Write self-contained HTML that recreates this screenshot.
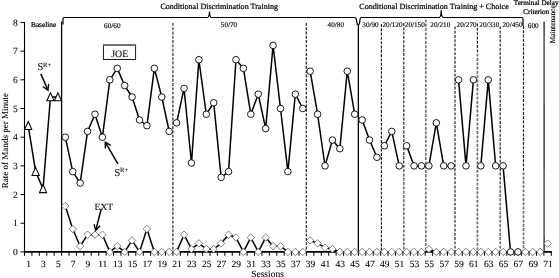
<!DOCTYPE html>
<html><head><meta charset="utf-8"><title>Figure</title><style>html,body{margin:0;padding:0;background:#fff}svg{display:block}text{stroke:#000;stroke-width:0.22px;text-rendering:geometricPrecision}.b{stroke-width:0.08px}.c{stroke-width:0.15px}</style></head><body>
<svg width="559" height="278" viewBox="0 0 559 278" font-family="'Liberation Serif', serif" fill="#000">
<rect width="559" height="278" fill="#fff"/>
<line x1="172.9" y1="22.90" x2="172.9" y2="74.50" stroke="#707070" stroke-width="1.7" stroke-dasharray="2.9 1.4"/>
<line x1="172.9" y1="74.50" x2="172.9" y2="251.90" stroke="#1a1a1a" stroke-width="1.15" stroke-dasharray="2.9 1.4"/>
<line x1="306.3" y1="22.90" x2="306.3" y2="251.90" stroke="#1a1a1a" stroke-width="1.15" stroke-dasharray="2.9 1.4"/>
<line x1="381.4" y1="24.00" x2="381.4" y2="251.90" stroke="#1a1a1a" stroke-width="1.15" stroke-dasharray="2.9 1.4"/>
<line x1="403.8" y1="23.00" x2="403.8" y2="169.20" stroke="#1a1a1a" stroke-width="1.15" stroke-dasharray="2.9 1.4"/>
<line x1="403.8" y1="169.20" x2="403.8" y2="251.90" stroke="#707070" stroke-width="1.7" stroke-dasharray="2.9 1.4"/>
<line x1="425.8" y1="19.50" x2="425.8" y2="251.90" stroke="#707070" stroke-width="1.7" stroke-dasharray="2.9 1.4"/>
<line x1="455" y1="26.40" x2="455" y2="251.90" stroke="#1a1a1a" stroke-width="1.15" stroke-dasharray="2.9 1.4"/>
<line x1="477.4" y1="23.60" x2="477.4" y2="53.70" stroke="#1a1a1a" stroke-width="1.15" stroke-dasharray="2.9 1.4"/>
<line x1="477.4" y1="53.70" x2="477.4" y2="251.90" stroke="#707070" stroke-width="1.7" stroke-dasharray="2.9 1.4"/>
<line x1="500.2" y1="26.40" x2="500.2" y2="181.20" stroke="#1a1a1a" stroke-width="1.15" stroke-dasharray="2.9 1.4"/>
<line x1="500.2" y1="181.20" x2="500.2" y2="251.90" stroke="#707070" stroke-width="1.7" stroke-dasharray="2.9 1.4"/>
<line x1="523.5" y1="26.00" x2="523.5" y2="172.20" stroke="#1a1a1a" stroke-width="1.15" stroke-dasharray="2.9 1.4"/>
<line x1="523.5" y1="172.20" x2="523.5" y2="251.90" stroke="#707070" stroke-width="1.7" stroke-dasharray="2.9 1.4"/>
<line x1="61.6" y1="21.5" x2="61.6" y2="251.9" stroke="#000" stroke-width="1.3"/>
<line x1="358.35" y1="24" x2="358.35" y2="251.9" stroke="#000" stroke-width="1.3"/>
<line x1="544.1" y1="21.5" x2="544.1" y2="36" stroke="#111" stroke-width="1.2"/>
<line x1="544.1" y1="36" x2="544.1" y2="103" stroke="#6e6e6e" stroke-width="1.8"/>
<line x1="544.1" y1="103" x2="544.1" y2="170" stroke="#111" stroke-width="1.2"/>
<line x1="544.1" y1="170" x2="544.1" y2="236" stroke="#6e6e6e" stroke-width="1.8"/>
<line x1="544.1" y1="236" x2="544.1" y2="251.9" stroke="#111" stroke-width="1.2"/>
<path d="M63 24.5 V19 Q63 17.5 64.6 17.5 H207.5 Q209.3 17.3 209.5 11.5 Q209.7 17.3 211.5 17.5 H354.8 Q356 17.5 356.2 18.8 L357.3 24.4 H359.4" fill="none" stroke="#000" stroke-width="1.2"/>
<path d="M359.4 24.4 L360.1 18.8 Q360.3 17.5 361.6 17.5 H439.2 Q441 17.3 441.2 10.3 Q441.4 17.3 443.2 17.5 H521.9 Q523 17.5 523 18.6 V26" fill="none" stroke="#000" stroke-width="1.2"/>
<line x1="24.5" y1="22" x2="24.5" y2="252.6" stroke="#000" stroke-width="1.1"/>
<line x1="24.0" y1="251.9" x2="551.82" y2="251.9" stroke="#000" stroke-width="1.9"/>
<line x1="20.5" y1="251.90" x2="24.5" y2="251.90" stroke="#000" stroke-width="1"/>
<text x="17.7" y="255.00" font-size="9.5" class="b" text-anchor="end">0</text>
<line x1="20.5" y1="223.22" x2="24.5" y2="223.22" stroke="#000" stroke-width="1"/>
<text x="17.7" y="226.32" font-size="9.5" class="b" text-anchor="end">1</text>
<line x1="20.5" y1="194.54" x2="24.5" y2="194.54" stroke="#000" stroke-width="1"/>
<text x="17.7" y="197.64" font-size="9.5" class="b" text-anchor="end">2</text>
<line x1="20.5" y1="165.86" x2="24.5" y2="165.86" stroke="#000" stroke-width="1"/>
<text x="17.7" y="168.96" font-size="9.5" class="b" text-anchor="end">3</text>
<line x1="20.5" y1="137.18" x2="24.5" y2="137.18" stroke="#000" stroke-width="1"/>
<text x="17.7" y="140.28" font-size="9.5" class="b" text-anchor="end">4</text>
<line x1="20.5" y1="108.50" x2="24.5" y2="108.50" stroke="#000" stroke-width="1"/>
<text x="17.7" y="111.60" font-size="9.5" class="b" text-anchor="end">5</text>
<line x1="20.5" y1="79.82" x2="24.5" y2="79.82" stroke="#000" stroke-width="1"/>
<text x="17.7" y="82.92" font-size="9.5" class="b" text-anchor="end">6</text>
<line x1="20.5" y1="51.14" x2="24.5" y2="51.14" stroke="#000" stroke-width="1"/>
<text x="17.7" y="54.24" font-size="9.5" class="b" text-anchor="end">7</text>
<line x1="20.5" y1="22.46" x2="24.5" y2="22.46" stroke="#000" stroke-width="1"/>
<text x="17.7" y="25.56" font-size="9.5" class="b" text-anchor="end">8</text>
<line x1="24.50" y1="251.9" x2="24.50" y2="255.8" stroke="#000" stroke-width="1"/>
<line x1="31.92" y1="251.9" x2="31.92" y2="255.8" stroke="#000" stroke-width="1"/>
<line x1="39.34" y1="251.9" x2="39.34" y2="255.8" stroke="#000" stroke-width="1"/>
<line x1="46.76" y1="251.9" x2="46.76" y2="255.8" stroke="#000" stroke-width="1"/>
<line x1="54.18" y1="251.9" x2="54.18" y2="255.8" stroke="#000" stroke-width="1"/>
<line x1="61.60" y1="251.9" x2="61.60" y2="255.8" stroke="#000" stroke-width="1"/>
<line x1="69.02" y1="251.9" x2="69.02" y2="255.8" stroke="#000" stroke-width="1"/>
<line x1="76.44" y1="251.9" x2="76.44" y2="255.8" stroke="#000" stroke-width="1"/>
<line x1="83.86" y1="251.9" x2="83.86" y2="255.8" stroke="#000" stroke-width="1"/>
<line x1="91.28" y1="251.9" x2="91.28" y2="255.8" stroke="#000" stroke-width="1"/>
<line x1="98.70" y1="251.9" x2="98.70" y2="255.8" stroke="#000" stroke-width="1"/>
<line x1="106.12" y1="251.9" x2="106.12" y2="255.8" stroke="#000" stroke-width="1"/>
<line x1="113.54" y1="251.9" x2="113.54" y2="255.8" stroke="#000" stroke-width="1"/>
<line x1="120.96" y1="251.9" x2="120.96" y2="255.8" stroke="#000" stroke-width="1"/>
<line x1="128.38" y1="251.9" x2="128.38" y2="255.8" stroke="#000" stroke-width="1"/>
<line x1="135.80" y1="251.9" x2="135.80" y2="255.8" stroke="#000" stroke-width="1"/>
<line x1="143.22" y1="251.9" x2="143.22" y2="255.8" stroke="#000" stroke-width="1"/>
<line x1="150.64" y1="251.9" x2="150.64" y2="255.8" stroke="#000" stroke-width="1"/>
<line x1="158.06" y1="251.9" x2="158.06" y2="255.8" stroke="#000" stroke-width="1"/>
<line x1="165.48" y1="251.9" x2="165.48" y2="255.8" stroke="#000" stroke-width="1"/>
<line x1="172.90" y1="251.9" x2="172.90" y2="255.8" stroke="#000" stroke-width="1"/>
<line x1="180.32" y1="251.9" x2="180.32" y2="255.8" stroke="#000" stroke-width="1"/>
<line x1="187.74" y1="251.9" x2="187.74" y2="255.8" stroke="#000" stroke-width="1"/>
<line x1="195.16" y1="251.9" x2="195.16" y2="255.8" stroke="#000" stroke-width="1"/>
<line x1="202.58" y1="251.9" x2="202.58" y2="255.8" stroke="#000" stroke-width="1"/>
<line x1="210.00" y1="251.9" x2="210.00" y2="255.8" stroke="#000" stroke-width="1"/>
<line x1="217.42" y1="251.9" x2="217.42" y2="255.8" stroke="#000" stroke-width="1"/>
<line x1="224.84" y1="251.9" x2="224.84" y2="255.8" stroke="#000" stroke-width="1"/>
<line x1="232.26" y1="251.9" x2="232.26" y2="255.8" stroke="#000" stroke-width="1"/>
<line x1="239.68" y1="251.9" x2="239.68" y2="255.8" stroke="#000" stroke-width="1"/>
<line x1="247.10" y1="251.9" x2="247.10" y2="255.8" stroke="#000" stroke-width="1"/>
<line x1="254.52" y1="251.9" x2="254.52" y2="255.8" stroke="#000" stroke-width="1"/>
<line x1="261.94" y1="251.9" x2="261.94" y2="255.8" stroke="#000" stroke-width="1"/>
<line x1="269.36" y1="251.9" x2="269.36" y2="255.8" stroke="#000" stroke-width="1"/>
<line x1="276.78" y1="251.9" x2="276.78" y2="255.8" stroke="#000" stroke-width="1"/>
<line x1="284.20" y1="251.9" x2="284.20" y2="255.8" stroke="#000" stroke-width="1"/>
<line x1="291.62" y1="251.9" x2="291.62" y2="255.8" stroke="#000" stroke-width="1"/>
<line x1="299.04" y1="251.9" x2="299.04" y2="255.8" stroke="#000" stroke-width="1"/>
<line x1="306.46" y1="251.9" x2="306.46" y2="255.8" stroke="#000" stroke-width="1"/>
<line x1="313.88" y1="251.9" x2="313.88" y2="255.8" stroke="#000" stroke-width="1"/>
<line x1="321.30" y1="251.9" x2="321.30" y2="255.8" stroke="#000" stroke-width="1"/>
<line x1="328.72" y1="251.9" x2="328.72" y2="255.8" stroke="#000" stroke-width="1"/>
<line x1="336.14" y1="251.9" x2="336.14" y2="255.8" stroke="#000" stroke-width="1"/>
<line x1="343.56" y1="251.9" x2="343.56" y2="255.8" stroke="#000" stroke-width="1"/>
<line x1="350.98" y1="251.9" x2="350.98" y2="255.8" stroke="#000" stroke-width="1"/>
<line x1="358.40" y1="251.9" x2="358.40" y2="255.8" stroke="#000" stroke-width="1"/>
<line x1="365.82" y1="251.9" x2="365.82" y2="255.8" stroke="#000" stroke-width="1"/>
<line x1="373.24" y1="251.9" x2="373.24" y2="255.8" stroke="#000" stroke-width="1"/>
<line x1="380.66" y1="251.9" x2="380.66" y2="255.8" stroke="#000" stroke-width="1"/>
<line x1="388.08" y1="251.9" x2="388.08" y2="255.8" stroke="#000" stroke-width="1"/>
<line x1="395.50" y1="251.9" x2="395.50" y2="255.8" stroke="#000" stroke-width="1"/>
<line x1="402.92" y1="251.9" x2="402.92" y2="255.8" stroke="#000" stroke-width="1"/>
<line x1="410.34" y1="251.9" x2="410.34" y2="255.8" stroke="#000" stroke-width="1"/>
<line x1="417.76" y1="251.9" x2="417.76" y2="255.8" stroke="#000" stroke-width="1"/>
<line x1="425.18" y1="251.9" x2="425.18" y2="255.8" stroke="#000" stroke-width="1"/>
<line x1="432.60" y1="251.9" x2="432.60" y2="255.8" stroke="#000" stroke-width="1"/>
<line x1="440.02" y1="251.9" x2="440.02" y2="255.8" stroke="#000" stroke-width="1"/>
<line x1="447.44" y1="251.9" x2="447.44" y2="255.8" stroke="#000" stroke-width="1"/>
<line x1="454.86" y1="251.9" x2="454.86" y2="255.8" stroke="#000" stroke-width="1"/>
<line x1="462.28" y1="251.9" x2="462.28" y2="255.8" stroke="#000" stroke-width="1"/>
<line x1="469.70" y1="251.9" x2="469.70" y2="255.8" stroke="#000" stroke-width="1"/>
<line x1="477.12" y1="251.9" x2="477.12" y2="255.8" stroke="#000" stroke-width="1"/>
<line x1="484.54" y1="251.9" x2="484.54" y2="255.8" stroke="#000" stroke-width="1"/>
<line x1="491.96" y1="251.9" x2="491.96" y2="255.8" stroke="#000" stroke-width="1"/>
<line x1="499.38" y1="251.9" x2="499.38" y2="255.8" stroke="#000" stroke-width="1"/>
<line x1="506.80" y1="251.9" x2="506.80" y2="255.8" stroke="#000" stroke-width="1"/>
<line x1="514.22" y1="251.9" x2="514.22" y2="255.8" stroke="#000" stroke-width="1"/>
<line x1="521.64" y1="251.9" x2="521.64" y2="255.8" stroke="#000" stroke-width="1"/>
<line x1="529.06" y1="251.9" x2="529.06" y2="255.8" stroke="#000" stroke-width="1"/>
<line x1="536.48" y1="251.9" x2="536.48" y2="255.8" stroke="#000" stroke-width="1"/>
<line x1="543.90" y1="251.9" x2="543.90" y2="255.8" stroke="#000" stroke-width="1"/>
<line x1="551.32" y1="251.9" x2="551.32" y2="255.8" stroke="#000" stroke-width="1"/>
<text x="28.61" y="266.7" font-size="9.5" class="b" text-anchor="middle">1</text>
<text x="43.45" y="266.7" font-size="9.5" class="b" text-anchor="middle">3</text>
<text x="58.29" y="266.7" font-size="9.5" class="b" text-anchor="middle">5</text>
<text x="73.13" y="266.7" font-size="9.5" class="b" text-anchor="middle">7</text>
<text x="87.97" y="266.7" font-size="9.5" class="b" text-anchor="middle">9</text>
<text x="102.81" y="266.7" font-size="9.5" class="b" text-anchor="middle">11</text>
<text x="117.65" y="266.7" font-size="9.5" class="b" text-anchor="middle">13</text>
<text x="132.49" y="266.7" font-size="9.5" class="b" text-anchor="middle">15</text>
<text x="147.33" y="266.7" font-size="9.5" class="b" text-anchor="middle">17</text>
<text x="162.17" y="266.7" font-size="9.5" class="b" text-anchor="middle">19</text>
<text x="177.01" y="266.7" font-size="9.5" class="b" text-anchor="middle">21</text>
<text x="191.85" y="266.7" font-size="9.5" class="b" text-anchor="middle">23</text>
<text x="206.69" y="266.7" font-size="9.5" class="b" text-anchor="middle">25</text>
<text x="221.53" y="266.7" font-size="9.5" class="b" text-anchor="middle">27</text>
<text x="236.37" y="266.7" font-size="9.5" class="b" text-anchor="middle">29</text>
<text x="251.21" y="266.7" font-size="9.5" class="b" text-anchor="middle">31</text>
<text x="266.05" y="266.7" font-size="9.5" class="b" text-anchor="middle">33</text>
<text x="280.89" y="266.7" font-size="9.5" class="b" text-anchor="middle">35</text>
<text x="295.73" y="266.7" font-size="9.5" class="b" text-anchor="middle">37</text>
<text x="310.57" y="266.7" font-size="9.5" class="b" text-anchor="middle">39</text>
<text x="325.41" y="266.7" font-size="9.5" class="b" text-anchor="middle">41</text>
<text x="340.25" y="266.7" font-size="9.5" class="b" text-anchor="middle">43</text>
<text x="355.09" y="266.7" font-size="9.5" class="b" text-anchor="middle">45</text>
<text x="369.93" y="266.7" font-size="9.5" class="b" text-anchor="middle">47</text>
<text x="384.77" y="266.7" font-size="9.5" class="b" text-anchor="middle">49</text>
<text x="399.61" y="266.7" font-size="9.5" class="b" text-anchor="middle">51</text>
<text x="414.45" y="266.7" font-size="9.5" class="b" text-anchor="middle">53</text>
<text x="429.29" y="266.7" font-size="9.5" class="b" text-anchor="middle">55</text>
<text x="444.13" y="266.7" font-size="9.5" class="b" text-anchor="middle">57</text>
<text x="458.97" y="266.7" font-size="9.5" class="b" text-anchor="middle">59</text>
<text x="473.81" y="266.7" font-size="9.5" class="b" text-anchor="middle">61</text>
<text x="488.65" y="266.7" font-size="9.5" class="b" text-anchor="middle">63</text>
<text x="503.49" y="266.7" font-size="9.5" class="b" text-anchor="middle">65</text>
<text x="518.33" y="266.7" font-size="9.5" class="b" text-anchor="middle">67</text>
<text x="533.17" y="266.7" font-size="9.5" class="b" text-anchor="middle">69</text>
<text x="548.01" y="266.7" font-size="9.5" class="b" text-anchor="middle">71</text>
<polyline fill="none" stroke="#000" stroke-width="1.5" stroke-linejoin="round" points="28.21,125.71 35.63,171.60 43.05,188.80 50.47,97.03 57.89,97.03"/>
<polyline fill="none" stroke="#000" stroke-width="1.5" stroke-linejoin="round" points="65.31,206.01 72.73,228.96 80.15,246.16 87.57,234.69 94.99,234.69 102.41,234.69 109.83,251.90 117.25,246.16 124.67,251.90 132.09,240.43 139.51,251.90 146.93,228.96 154.35,251.90 161.77,251.90 169.19,251.90"/>
<polyline fill="none" stroke="#000" stroke-width="1.5" stroke-linejoin="round" points="176.61,251.90 184.03,234.69 191.45,249.03 198.87,243.30 206.29,249.03 213.71,249.03 221.13,243.30 228.55,234.69 235.97,237.56 243.39,251.90 250.81,237.56 258.23,251.90 265.65,237.56 273.07,246.16 280.49,246.16 287.91,251.90 295.33,251.90 302.75,251.90"/>
<polyline fill="none" stroke="#000" stroke-width="1.5" stroke-linejoin="round" points="310.17,240.43 317.59,243.30 325.01,247.60 332.43,249.03 339.85,251.90 347.27,251.90 354.69,251.90"/>
<polyline fill="none" stroke="#000" stroke-width="1.5" stroke-linejoin="round" points="362.11,251.90 369.53,251.90 376.95,251.90"/>
<polyline fill="none" stroke="#000" stroke-width="1.5" stroke-linejoin="round" points="384.37,251.90 391.79,251.90 399.21,251.90"/>
<polyline fill="none" stroke="#000" stroke-width="1.5" stroke-linejoin="round" points="406.63,251.90 414.05,251.90 421.47,251.90"/>
<polyline fill="none" stroke="#000" stroke-width="1.5" stroke-linejoin="round" points="428.89,249.03 436.31,251.90 443.73,251.90 451.15,251.90"/>
<polyline fill="none" stroke="#000" stroke-width="1.5" stroke-linejoin="round" points="458.57,251.90 465.99,251.90 473.41,251.90"/>
<polyline fill="none" stroke="#000" stroke-width="1.5" stroke-linejoin="round" points="480.83,251.90 488.25,251.90 495.67,251.90"/>
<polyline fill="none" stroke="#000" stroke-width="1.5" stroke-linejoin="round" points="503.09,251.90 510.51,251.90 517.93,251.90"/>
<polyline fill="none" stroke="#000" stroke-width="1.5" stroke-linejoin="round" points="525.35,251.90 532.77,251.90 540.19,251.90"/>
<polyline fill="none" stroke="#000" stroke-width="1.5" stroke-linejoin="round" points="65.31,137.18 72.73,171.60 80.15,183.07 87.57,131.44 94.99,114.24 102.41,137.18 109.83,79.82 117.25,68.35 124.67,85.56 132.09,97.03 139.51,119.97 146.93,125.71 154.35,68.35 161.77,97.03 169.19,131.44"/>
<polyline fill="none" stroke="#000" stroke-width="1.5" stroke-linejoin="round" points="176.61,122.84 184.03,88.42 191.45,162.99 198.87,59.74 206.29,114.24 213.71,102.76 221.13,177.33 228.55,171.60 235.97,59.74 243.39,68.35 250.81,114.24 258.23,94.16 265.65,128.58 273.07,45.40 280.49,108.50 287.91,171.60 295.33,94.16 302.75,108.50"/>
<polyline fill="none" stroke="#000" stroke-width="1.5" stroke-linejoin="round" points="310.17,71.22 317.59,114.24 325.01,165.86 332.43,140.05 339.85,148.65 347.27,71.22 354.69,114.24"/>
<polyline fill="none" stroke="#000" stroke-width="1.5" stroke-linejoin="round" points="362.11,119.97 369.53,140.05 376.95,157.26"/>
<polyline fill="none" stroke="#000" stroke-width="1.5" stroke-linejoin="round" points="384.37,145.78 391.79,131.44 399.21,165.86"/>
<polyline fill="none" stroke="#000" stroke-width="1.5" stroke-linejoin="round" points="406.63,145.78 414.05,165.86 421.47,165.86"/>
<polyline fill="none" stroke="#000" stroke-width="1.5" stroke-linejoin="round" points="428.89,165.86 436.31,122.84 443.73,165.86 451.15,165.86"/>
<polyline fill="none" stroke="#000" stroke-width="1.5" stroke-linejoin="round" points="458.57,79.82 465.99,165.86 473.41,79.82"/>
<polyline fill="none" stroke="#000" stroke-width="1.5" stroke-linejoin="round" points="480.83,165.86 488.25,79.82 495.67,165.86"/>
<polyline fill="none" stroke="#000" stroke-width="1.5" stroke-linejoin="round" points="503.09,165.86 510.51,251.90 517.93,251.90"/>
<path d="M61.61 206.01 L65.31 202.31 L69.01 206.01 L65.31 209.71 Z" fill="#fff" stroke="#3a3a3a" stroke-width="0.65"/>
<path d="M69.03 228.96 L72.73 225.26 L76.43 228.96 L72.73 232.66 Z" fill="#fff" stroke="#3a3a3a" stroke-width="0.65"/>
<path d="M76.45 246.16 L80.15 242.46 L83.85 246.16 L80.15 249.86 Z" fill="#fff" stroke="#3a3a3a" stroke-width="0.65"/>
<path d="M83.87 234.69 L87.57 230.99 L91.27 234.69 L87.57 238.39 Z" fill="#fff" stroke="#3a3a3a" stroke-width="0.65"/>
<path d="M91.29 234.69 L94.99 230.99 L98.69 234.69 L94.99 238.39 Z" fill="#fff" stroke="#3a3a3a" stroke-width="0.65"/>
<path d="M98.71 234.69 L102.41 230.99 L106.11 234.69 L102.41 238.39 Z" fill="#fff" stroke="#3a3a3a" stroke-width="0.65"/>
<path d="M106.13 251.90 L109.83 248.20 L113.53 251.90 L109.83 255.60 Z" fill="#fff" stroke="#3a3a3a" stroke-width="0.65"/>
<path d="M113.55 246.16 L117.25 242.46 L120.95 246.16 L117.25 249.86 Z" fill="#fff" stroke="#3a3a3a" stroke-width="0.65"/>
<path d="M120.97 251.90 L124.67 248.20 L128.37 251.90 L124.67 255.60 Z" fill="#fff" stroke="#3a3a3a" stroke-width="0.65"/>
<path d="M128.39 240.43 L132.09 236.73 L135.79 240.43 L132.09 244.13 Z" fill="#fff" stroke="#3a3a3a" stroke-width="0.65"/>
<path d="M135.81 251.90 L139.51 248.20 L143.21 251.90 L139.51 255.60 Z" fill="#fff" stroke="#3a3a3a" stroke-width="0.65"/>
<path d="M143.23 228.96 L146.93 225.26 L150.63 228.96 L146.93 232.66 Z" fill="#fff" stroke="#3a3a3a" stroke-width="0.65"/>
<path d="M150.65 251.90 L154.35 248.20 L158.05 251.90 L154.35 255.60 Z" fill="#fff" stroke="#3a3a3a" stroke-width="0.65"/>
<path d="M158.07 251.90 L161.77 248.20 L165.47 251.90 L161.77 255.60 Z" fill="#fff" stroke="#3a3a3a" stroke-width="0.65"/>
<path d="M165.49 251.90 L169.19 248.20 L172.89 251.90 L169.19 255.60 Z" fill="#fff" stroke="#3a3a3a" stroke-width="0.65"/>
<path d="M172.91 251.90 L176.61 248.20 L180.31 251.90 L176.61 255.60 Z" fill="#fff" stroke="#3a3a3a" stroke-width="0.65"/>
<path d="M180.33 234.69 L184.03 230.99 L187.73 234.69 L184.03 238.39 Z" fill="#fff" stroke="#3a3a3a" stroke-width="0.65"/>
<path d="M187.75 249.03 L191.45 245.33 L195.15 249.03 L191.45 252.73 Z" fill="#fff" stroke="#3a3a3a" stroke-width="0.65"/>
<path d="M195.17 243.30 L198.87 239.60 L202.57 243.30 L198.87 247.00 Z" fill="#fff" stroke="#3a3a3a" stroke-width="0.65"/>
<path d="M202.59 249.03 L206.29 245.33 L209.99 249.03 L206.29 252.73 Z" fill="#fff" stroke="#3a3a3a" stroke-width="0.65"/>
<path d="M210.01 249.03 L213.71 245.33 L217.41 249.03 L213.71 252.73 Z" fill="#fff" stroke="#3a3a3a" stroke-width="0.65"/>
<path d="M217.43 243.30 L221.13 239.60 L224.83 243.30 L221.13 247.00 Z" fill="#fff" stroke="#3a3a3a" stroke-width="0.65"/>
<path d="M224.85 234.69 L228.55 230.99 L232.25 234.69 L228.55 238.39 Z" fill="#fff" stroke="#3a3a3a" stroke-width="0.65"/>
<path d="M232.27 237.56 L235.97 233.86 L239.67 237.56 L235.97 241.26 Z" fill="#fff" stroke="#3a3a3a" stroke-width="0.65"/>
<path d="M239.69 251.90 L243.39 248.20 L247.09 251.90 L243.39 255.60 Z" fill="#fff" stroke="#3a3a3a" stroke-width="0.65"/>
<path d="M247.11 237.56 L250.81 233.86 L254.51 237.56 L250.81 241.26 Z" fill="#fff" stroke="#3a3a3a" stroke-width="0.65"/>
<path d="M254.53 251.90 L258.23 248.20 L261.93 251.90 L258.23 255.60 Z" fill="#fff" stroke="#3a3a3a" stroke-width="0.65"/>
<path d="M261.95 237.56 L265.65 233.86 L269.35 237.56 L265.65 241.26 Z" fill="#fff" stroke="#3a3a3a" stroke-width="0.65"/>
<path d="M269.37 246.16 L273.07 242.46 L276.77 246.16 L273.07 249.86 Z" fill="#fff" stroke="#3a3a3a" stroke-width="0.65"/>
<path d="M276.79 246.16 L280.49 242.46 L284.19 246.16 L280.49 249.86 Z" fill="#fff" stroke="#3a3a3a" stroke-width="0.65"/>
<path d="M284.21 251.90 L287.91 248.20 L291.61 251.90 L287.91 255.60 Z" fill="#fff" stroke="#3a3a3a" stroke-width="0.65"/>
<path d="M291.63 251.90 L295.33 248.20 L299.03 251.90 L295.33 255.60 Z" fill="#fff" stroke="#3a3a3a" stroke-width="0.65"/>
<path d="M299.05 251.90 L302.75 248.20 L306.45 251.90 L302.75 255.60 Z" fill="#fff" stroke="#3a3a3a" stroke-width="0.65"/>
<path d="M306.47 240.43 L310.17 236.73 L313.87 240.43 L310.17 244.13 Z" fill="#fff" stroke="#3a3a3a" stroke-width="0.65"/>
<path d="M313.89 243.30 L317.59 239.60 L321.29 243.30 L317.59 247.00 Z" fill="#fff" stroke="#3a3a3a" stroke-width="0.65"/>
<path d="M321.31 247.60 L325.01 243.90 L328.71 247.60 L325.01 251.30 Z" fill="#fff" stroke="#3a3a3a" stroke-width="0.65"/>
<path d="M328.73 249.03 L332.43 245.33 L336.13 249.03 L332.43 252.73 Z" fill="#fff" stroke="#3a3a3a" stroke-width="0.65"/>
<path d="M336.15 251.90 L339.85 248.20 L343.55 251.90 L339.85 255.60 Z" fill="#fff" stroke="#3a3a3a" stroke-width="0.65"/>
<path d="M343.57 251.90 L347.27 248.20 L350.97 251.90 L347.27 255.60 Z" fill="#fff" stroke="#3a3a3a" stroke-width="0.65"/>
<path d="M350.99 251.90 L354.69 248.20 L358.39 251.90 L354.69 255.60 Z" fill="#fff" stroke="#3a3a3a" stroke-width="0.65"/>
<path d="M358.41 251.90 L362.11 248.20 L365.81 251.90 L362.11 255.60 Z" fill="#fff" stroke="#3a3a3a" stroke-width="0.65"/>
<path d="M365.83 251.90 L369.53 248.20 L373.23 251.90 L369.53 255.60 Z" fill="#fff" stroke="#3a3a3a" stroke-width="0.65"/>
<path d="M373.25 251.90 L376.95 248.20 L380.65 251.90 L376.95 255.60 Z" fill="#fff" stroke="#3a3a3a" stroke-width="0.65"/>
<path d="M380.67 251.90 L384.37 248.20 L388.07 251.90 L384.37 255.60 Z" fill="#fff" stroke="#3a3a3a" stroke-width="0.65"/>
<path d="M388.09 251.90 L391.79 248.20 L395.49 251.90 L391.79 255.60 Z" fill="#fff" stroke="#3a3a3a" stroke-width="0.65"/>
<path d="M395.51 251.90 L399.21 248.20 L402.91 251.90 L399.21 255.60 Z" fill="#fff" stroke="#3a3a3a" stroke-width="0.65"/>
<path d="M402.93 251.90 L406.63 248.20 L410.33 251.90 L406.63 255.60 Z" fill="#fff" stroke="#3a3a3a" stroke-width="0.65"/>
<path d="M410.35 251.90 L414.05 248.20 L417.75 251.90 L414.05 255.60 Z" fill="#fff" stroke="#3a3a3a" stroke-width="0.65"/>
<path d="M417.77 251.90 L421.47 248.20 L425.17 251.90 L421.47 255.60 Z" fill="#fff" stroke="#3a3a3a" stroke-width="0.65"/>
<path d="M425.19 249.03 L428.89 245.33 L432.59 249.03 L428.89 252.73 Z" fill="#fff" stroke="#3a3a3a" stroke-width="0.65"/>
<path d="M432.61 251.90 L436.31 248.20 L440.01 251.90 L436.31 255.60 Z" fill="#fff" stroke="#3a3a3a" stroke-width="0.65"/>
<path d="M440.03 251.90 L443.73 248.20 L447.43 251.90 L443.73 255.60 Z" fill="#fff" stroke="#3a3a3a" stroke-width="0.65"/>
<path d="M447.45 251.90 L451.15 248.20 L454.85 251.90 L451.15 255.60 Z" fill="#fff" stroke="#3a3a3a" stroke-width="0.65"/>
<path d="M454.87 251.90 L458.57 248.20 L462.27 251.90 L458.57 255.60 Z" fill="#fff" stroke="#3a3a3a" stroke-width="0.65"/>
<path d="M462.29 251.90 L465.99 248.20 L469.69 251.90 L465.99 255.60 Z" fill="#fff" stroke="#3a3a3a" stroke-width="0.65"/>
<path d="M469.71 251.90 L473.41 248.20 L477.11 251.90 L473.41 255.60 Z" fill="#fff" stroke="#3a3a3a" stroke-width="0.65"/>
<path d="M477.13 251.90 L480.83 248.20 L484.53 251.90 L480.83 255.60 Z" fill="#fff" stroke="#3a3a3a" stroke-width="0.65"/>
<path d="M484.55 251.90 L488.25 248.20 L491.95 251.90 L488.25 255.60 Z" fill="#fff" stroke="#3a3a3a" stroke-width="0.65"/>
<path d="M491.97 251.90 L495.67 248.20 L499.37 251.90 L495.67 255.60 Z" fill="#fff" stroke="#3a3a3a" stroke-width="0.65"/>
<path d="M499.39 251.90 L503.09 248.20 L506.79 251.90 L503.09 255.60 Z" fill="#fff" stroke="#3a3a3a" stroke-width="0.65"/>
<path d="M506.81 251.90 L510.51 248.20 L514.21 251.90 L510.51 255.60 Z" fill="#fff" stroke="#3a3a3a" stroke-width="0.65"/>
<path d="M514.23 251.90 L517.93 248.20 L521.63 251.90 L517.93 255.60 Z" fill="#fff" stroke="#3a3a3a" stroke-width="0.65"/>
<path d="M521.65 251.90 L525.35 248.20 L529.05 251.90 L525.35 255.60 Z" fill="#fff" stroke="#3a3a3a" stroke-width="0.65"/>
<path d="M529.07 251.90 L532.77 248.20 L536.47 251.90 L532.77 255.60 Z" fill="#fff" stroke="#3a3a3a" stroke-width="0.65"/>
<path d="M536.49 251.90 L540.19 248.20 L543.89 251.90 L540.19 255.60 Z" fill="#fff" stroke="#3a3a3a" stroke-width="0.65"/>
<path d="M543.91 243.58 L547.61 239.88 L551.31 243.58 L547.61 247.28 Z" fill="#fff" stroke="#3a3a3a" stroke-width="0.65"/>
<path d="M24.61 129.51 L28.21 121.51 L31.81 129.51 Z" fill="#fff" stroke="#000" stroke-width="1.05"/>
<path d="M32.03 175.40 L35.63 167.40 L39.23 175.40 Z" fill="#fff" stroke="#000" stroke-width="1.05"/>
<path d="M39.45 192.60 L43.05 184.60 L46.65 192.60 Z" fill="#fff" stroke="#000" stroke-width="1.05"/>
<path d="M46.87 100.83 L50.47 92.83 L54.07 100.83 Z" fill="#fff" stroke="#000" stroke-width="1.05"/>
<path d="M54.29 100.83 L57.89 92.83 L61.49 100.83 Z" fill="#fff" stroke="#000" stroke-width="1.05"/>
<circle cx="65.31" cy="137.18" r="3.3" fill="#fff" stroke="#000" stroke-width="0.9"/>
<circle cx="72.73" cy="171.60" r="3.3" fill="#fff" stroke="#000" stroke-width="0.9"/>
<circle cx="80.15" cy="183.07" r="3.3" fill="#fff" stroke="#000" stroke-width="0.9"/>
<circle cx="87.57" cy="131.44" r="3.3" fill="#fff" stroke="#000" stroke-width="0.9"/>
<circle cx="94.99" cy="114.24" r="3.3" fill="#fff" stroke="#000" stroke-width="0.9"/>
<circle cx="102.41" cy="137.18" r="3.3" fill="#fff" stroke="#000" stroke-width="0.9"/>
<circle cx="109.83" cy="79.82" r="3.3" fill="#fff" stroke="#000" stroke-width="0.9"/>
<circle cx="117.25" cy="68.35" r="3.3" fill="#fff" stroke="#000" stroke-width="0.9"/>
<circle cx="124.67" cy="85.56" r="3.3" fill="#fff" stroke="#000" stroke-width="0.9"/>
<circle cx="132.09" cy="97.03" r="3.3" fill="#fff" stroke="#000" stroke-width="0.9"/>
<circle cx="139.51" cy="119.97" r="3.3" fill="#fff" stroke="#000" stroke-width="0.9"/>
<circle cx="146.93" cy="125.71" r="3.3" fill="#fff" stroke="#000" stroke-width="0.9"/>
<circle cx="154.35" cy="68.35" r="3.3" fill="#fff" stroke="#000" stroke-width="0.9"/>
<circle cx="161.77" cy="97.03" r="3.3" fill="#fff" stroke="#000" stroke-width="0.9"/>
<circle cx="169.19" cy="131.44" r="3.3" fill="#fff" stroke="#000" stroke-width="0.9"/>
<circle cx="176.61" cy="122.84" r="3.3" fill="#fff" stroke="#000" stroke-width="0.9"/>
<circle cx="184.03" cy="88.42" r="3.3" fill="#fff" stroke="#000" stroke-width="0.9"/>
<circle cx="191.45" cy="162.99" r="3.3" fill="#fff" stroke="#000" stroke-width="0.9"/>
<circle cx="198.87" cy="59.74" r="3.3" fill="#fff" stroke="#000" stroke-width="0.9"/>
<circle cx="206.29" cy="114.24" r="3.3" fill="#fff" stroke="#000" stroke-width="0.9"/>
<circle cx="213.71" cy="102.76" r="3.3" fill="#fff" stroke="#000" stroke-width="0.9"/>
<circle cx="221.13" cy="177.33" r="3.3" fill="#fff" stroke="#000" stroke-width="0.9"/>
<circle cx="228.55" cy="171.60" r="3.3" fill="#fff" stroke="#000" stroke-width="0.9"/>
<circle cx="235.97" cy="59.74" r="3.3" fill="#fff" stroke="#000" stroke-width="0.9"/>
<circle cx="243.39" cy="68.35" r="3.3" fill="#fff" stroke="#000" stroke-width="0.9"/>
<circle cx="250.81" cy="114.24" r="3.3" fill="#fff" stroke="#000" stroke-width="0.9"/>
<circle cx="258.23" cy="94.16" r="3.3" fill="#fff" stroke="#000" stroke-width="0.9"/>
<circle cx="265.65" cy="128.58" r="3.3" fill="#fff" stroke="#000" stroke-width="0.9"/>
<circle cx="273.07" cy="45.40" r="3.3" fill="#fff" stroke="#000" stroke-width="0.9"/>
<circle cx="280.49" cy="108.50" r="3.3" fill="#fff" stroke="#000" stroke-width="0.9"/>
<circle cx="287.91" cy="171.60" r="3.3" fill="#fff" stroke="#000" stroke-width="0.9"/>
<circle cx="295.33" cy="94.16" r="3.3" fill="#fff" stroke="#000" stroke-width="0.9"/>
<circle cx="302.75" cy="108.50" r="3.3" fill="#fff" stroke="#000" stroke-width="0.9"/>
<circle cx="310.17" cy="71.22" r="3.3" fill="#fff" stroke="#000" stroke-width="0.9"/>
<circle cx="317.59" cy="114.24" r="3.3" fill="#fff" stroke="#000" stroke-width="0.9"/>
<circle cx="325.01" cy="165.86" r="3.3" fill="#fff" stroke="#000" stroke-width="0.9"/>
<circle cx="332.43" cy="140.05" r="3.3" fill="#fff" stroke="#000" stroke-width="0.9"/>
<circle cx="339.85" cy="148.65" r="3.3" fill="#fff" stroke="#000" stroke-width="0.9"/>
<circle cx="347.27" cy="71.22" r="3.3" fill="#fff" stroke="#000" stroke-width="0.9"/>
<circle cx="354.69" cy="114.24" r="3.3" fill="#fff" stroke="#000" stroke-width="0.9"/>
<circle cx="362.11" cy="119.97" r="3.3" fill="#fff" stroke="#000" stroke-width="0.9"/>
<circle cx="369.53" cy="140.05" r="3.3" fill="#fff" stroke="#000" stroke-width="0.9"/>
<circle cx="376.95" cy="157.26" r="3.3" fill="#fff" stroke="#000" stroke-width="0.9"/>
<circle cx="384.37" cy="145.78" r="3.3" fill="#fff" stroke="#000" stroke-width="0.9"/>
<circle cx="391.79" cy="131.44" r="3.3" fill="#fff" stroke="#000" stroke-width="0.9"/>
<circle cx="399.21" cy="165.86" r="3.3" fill="#fff" stroke="#000" stroke-width="0.9"/>
<circle cx="406.63" cy="145.78" r="3.3" fill="#fff" stroke="#000" stroke-width="0.9"/>
<circle cx="414.05" cy="165.86" r="3.3" fill="#fff" stroke="#000" stroke-width="0.9"/>
<circle cx="421.47" cy="165.86" r="3.3" fill="#fff" stroke="#000" stroke-width="0.9"/>
<circle cx="428.89" cy="165.86" r="3.3" fill="#fff" stroke="#000" stroke-width="0.9"/>
<circle cx="436.31" cy="122.84" r="3.3" fill="#fff" stroke="#000" stroke-width="0.9"/>
<circle cx="443.73" cy="165.86" r="3.3" fill="#fff" stroke="#000" stroke-width="0.9"/>
<circle cx="451.15" cy="165.86" r="3.3" fill="#fff" stroke="#000" stroke-width="0.9"/>
<circle cx="458.57" cy="79.82" r="3.3" fill="#fff" stroke="#000" stroke-width="0.9"/>
<circle cx="465.99" cy="165.86" r="3.3" fill="#fff" stroke="#000" stroke-width="0.9"/>
<circle cx="473.41" cy="79.82" r="3.3" fill="#fff" stroke="#000" stroke-width="0.9"/>
<circle cx="480.83" cy="165.86" r="3.3" fill="#fff" stroke="#000" stroke-width="0.9"/>
<circle cx="488.25" cy="79.82" r="3.3" fill="#fff" stroke="#000" stroke-width="0.9"/>
<circle cx="495.67" cy="165.86" r="3.3" fill="#fff" stroke="#000" stroke-width="0.9"/>
<circle cx="503.09" cy="165.86" r="3.3" fill="#fff" stroke="#000" stroke-width="0.9"/>
<circle cx="510.51" cy="251.90" r="3.3" fill="#fff" stroke="#000" stroke-width="0.9"/>
<circle cx="517.93" cy="251.90" r="3.3" fill="#fff" stroke="#000" stroke-width="0.9"/>
<text x="219.2" y="8.9" font-size="8" text-anchor="middle" textLength="117.5" lengthAdjust="spacingAndGlyphs">Conditional Discrimination Training</text>
<text x="434" y="8.9" font-size="8" text-anchor="middle" textLength="149.5" lengthAdjust="spacingAndGlyphs">Conditional Discrimination Training + Choice</text>
<text x="558.6" y="5.4" font-size="7.2" text-anchor="end">Terminal Delay</text>
<text x="549.2" y="13.6" font-size="7.2" text-anchor="end">Criterion</text>
<text transform="translate(555.2,43.5) rotate(-90)" font-size="7.4" class="c">Maintenance</text>
<text x="43.6" y="27.1" font-size="7.3" text-anchor="middle">Baseline</text>
<text x="112.3" y="28.0" font-size="7.2" class="c" text-anchor="middle">60/60</text>
<text x="229" y="27.0" font-size="7.2" class="c" text-anchor="middle">50/70</text>
<text x="335.8" y="27.0" font-size="7.2" class="c" text-anchor="middle">40/80</text>
<text x="370.5" y="27.0" font-size="7.2" class="c" text-anchor="middle">30/90</text>
<text x="392.5" y="27.0" font-size="7.2" class="c" text-anchor="middle">20/120</text>
<text x="414.8" y="27.0" font-size="7.2" class="c" text-anchor="middle">20/150</text>
<text x="440.3" y="27.0" font-size="7.2" class="c" text-anchor="middle">20/210</text>
<text x="466.6" y="27.0" font-size="7.2" class="c" text-anchor="middle">20/270</text>
<text x="489.3" y="27.0" font-size="7.2" class="c" text-anchor="middle">20/330</text>
<text x="512.5" y="27.0" font-size="7.2" class="c" text-anchor="middle">20/450</text>
<text x="533.2" y="27.7" font-size="7.2" class="c" text-anchor="middle">600</text>
<text transform="translate(7.9,140.6) rotate(-90)" font-size="9.05" class="b" text-anchor="middle">Rate of Mands per Minute</text>
<text x="267.5" y="277.3" font-size="9.5" class="b" text-anchor="middle">Sessions</text>
<rect x="103.4" y="45.2" width="32.2" height="14.3" fill="#fff" stroke="#000" stroke-width="0.9"/>
<line x1="102.9" y1="44.9" x2="136.1" y2="44.9" stroke="#777" stroke-width="1.6"/>
<text x="119.7" y="56.9" font-size="9.9" class="b" text-anchor="middle">JOE</text>
<text x="37.6" y="70.1" font-size="10.4" class="b">S<tspan font-size="6.6" dy="-3.6" dx="-0.3">R+</tspan></text>
<text x="114.6" y="175.6" font-size="10.4" class="b">S<tspan font-size="6.6" dy="-3.6" dx="-0.3">R+</tspan></text>
<text x="94.6" y="209.9" font-size="9.5" class="b">EXT</text>
<line x1="40.8" y1="73.9" x2="47.60" y2="89.29" stroke="#000" stroke-width="1.5"/>
<path d="M48.68 83.94 L48.00 90.20 L42.91 86.48" fill="none" stroke="#000" stroke-width="1.4" stroke-linejoin="miter"/>
<line x1="117.9" y1="163.8" x2="105.80" y2="143.06" stroke="#000" stroke-width="1.5"/>
<path d="M105.33 148.50 L105.30 142.20 L110.77 145.33" fill="none" stroke="#000" stroke-width="1.4" stroke-linejoin="miter"/>
<line x1="101.3" y1="208.8" x2="95.95" y2="229.33" stroke="#000" stroke-width="1.5"/>
<path d="M100.12 225.81 L95.70 230.30 L94.03 224.23" fill="none" stroke="#000" stroke-width="1.4" stroke-linejoin="miter"/>
</svg>
</body></html>
